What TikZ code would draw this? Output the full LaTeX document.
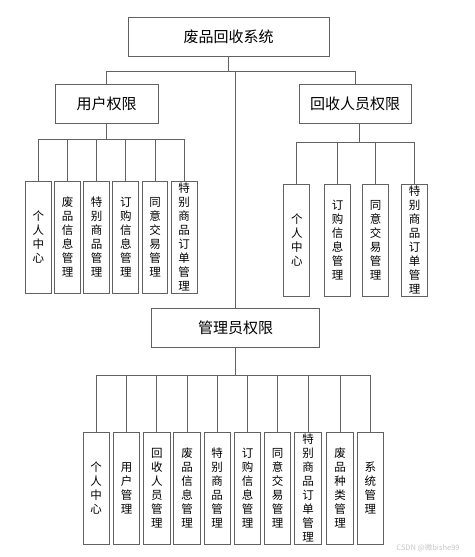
\documentclass[tikz,border=0pt]{standalone}
\usepackage{fontspec}
\newfontfamily\cjk{Noto Sans CJK SC}
\begin{document}
\begin{tikzpicture}[x=1pt,y=1pt,
  line/.style={draw=black!62,line width=0.9pt},
  headbox/.style={draw=black!62,line width=0.9pt,inner sep=0pt,minimum height=39pt,font=\cjk\fontsize{15}{18}\selectfont},
  leafbox/.style={draw=black!62,line width=0.9pt,inner sep=0pt,minimum width=25.8pt,minimum height=111.5pt,align=center,font=\cjk\fontsize{11.5}{14}\selectfont}]
\useasboundingbox (0,0) rectangle (474,-557);
\fill[white] (0,0) rectangle (474,-557);
% heads
\node[headbox,minimum width=201pt] (top) at (228.5,-36.5) {废品回收系统};
\node[headbox,minimum width=103pt] (user) at (106.5,-103.5) {用户权限};
\node[headbox,minimum width=112pt] (rec) at (355,-103.5) {回收人员权限};
\node[headbox,minimum width=167.6pt,minimum height=38.7pt] (admin) at (235.5,-327.7) {管理员权限};
% user leaves
\node[leafbox] (u1) at (38.3,-237.3) {个\\人\\中\\心};
\node[leafbox] (u2) at (67.5,-237.3) {废\\品\\信\\息\\管\\理};
\node[leafbox] (u3) at (96.6,-237.3) {特\\别\\商\\品\\管\\理};
\node[leafbox] (u4) at (125.8,-237.3) {订\\购\\信\\息\\管\\理};
\node[leafbox] (u5) at (155,-237.3) {同\\意\\交\\易\\管\\理};
\node[leafbox] (u6) at (184.2,-237.3) {特\\别\\商\\品\\订\\单\\管\\理};
% recycler leaves
\node[leafbox,minimum height=112pt] (r1) at (296.8,-240.3) {个\\人\\中\\心};
\node[leafbox,minimum height=112pt] (r2) at (337.5,-240.3) {订\\购\\信\\息\\管\\理};
\node[leafbox,minimum height=112pt] (r3) at (375.5,-240.3) {同\\意\\交\\易\\管\\理};
\node[leafbox,minimum height=112pt] (r4) at (414.5,-240.3) {特\\别\\商\\品\\订\\单\\管\\理};
% admin leaves
\node[leafbox,minimum width=26.3pt,minimum height=112pt] (a1) at (96.2,-488.3) {个\\人\\中\\心};
\node[leafbox,minimum width=26.3pt,minimum height=112pt] (a2) at (126.5,-488.3) {用\\户\\管\\理};
\node[leafbox,minimum width=26.3pt,minimum height=112pt] (a3) at (156.8,-488.3) {回\\收\\人\\员\\管\\理};
\node[leafbox,minimum width=26.3pt,minimum height=112pt] (a4) at (187,-488.3) {废\\品\\信\\息\\管\\理};
\node[leafbox,minimum width=26.3pt,minimum height=112pt] (a5) at (217.2,-488.3) {特\\别\\商\\品\\管\\理};
\node[leafbox,minimum width=26.3pt,minimum height=112pt] (a6) at (247.5,-488.3) {订\\购\\信\\息\\管\\理};
\node[leafbox,minimum width=26.3pt,minimum height=112pt] (a7) at (277.5,-488.3) {同\\意\\交\\易\\管\\理};
\node[leafbox,minimum width=26.3pt,minimum height=112pt] (a8) at (308,-488.3) {特\\别\\商\\品\\订\\单\\管\\理};
\node[leafbox,minimum width=26.3pt,minimum height=112pt] (a9) at (340,-488.3) {废\\品\\种\\类\\管\\理};
\node[leafbox,minimum width=26.3pt,minimum height=112pt] (a10) at (370.3,-488.3) {系\\统\\管\\理};
% watermark
\node[text=black!22,font=\cjk\fontsize{7.5}{9}\selectfont,inner sep=0pt] (wm) at (428,-548) {CSDN @微bishe99};
% bus coordinates
\coordinate (b0) at (0,-71);
\coordinate (bu) at (0,-139);
\coordinate (br) at (0,-142);
\coordinate (ba) at (0,-375);
\coordinate (rstub) at (359,-123);
% top level
\draw[line] (top.south) -- (top.south |- b0);
\draw[line] (user.north) -- (user.north |- b0) -- (rec.north |- b0) -- (rec.north);
\draw[line] (admin.north) -- (admin.north |- b0);
% user branch
\draw[line] (user.south) -- (user.south |- bu);
\draw[line] (u1.north) -- (u1.north |- bu) -- (u6.north |- bu) -- (u6.north);
\foreach \n in {u2,u3,u4,u5} \draw[line] (\n.north) -- (\n.north |- bu);
% recycler branch
\draw[line] (rstub) -- (rstub |- br);
\draw[line] (r1.north) -- (r1.north |- br) -- (r4.north |- br) -- (r4.north);
\foreach \n in {r2,r3} \draw[line] (\n.north) -- (\n.north |- br);
% admin branch
\draw[line] (admin.south) -- (admin.south |- ba);
\draw[line] (a1.north) -- (a1.north |- ba) -- (a10.north |- ba) -- (a10.north);
\foreach \n in {a2,a3,a4,a5,a6,a7,a8,a9} \draw[line] (\n.north) -- (\n.north |- ba);
\end{tikzpicture}
\end{document}
